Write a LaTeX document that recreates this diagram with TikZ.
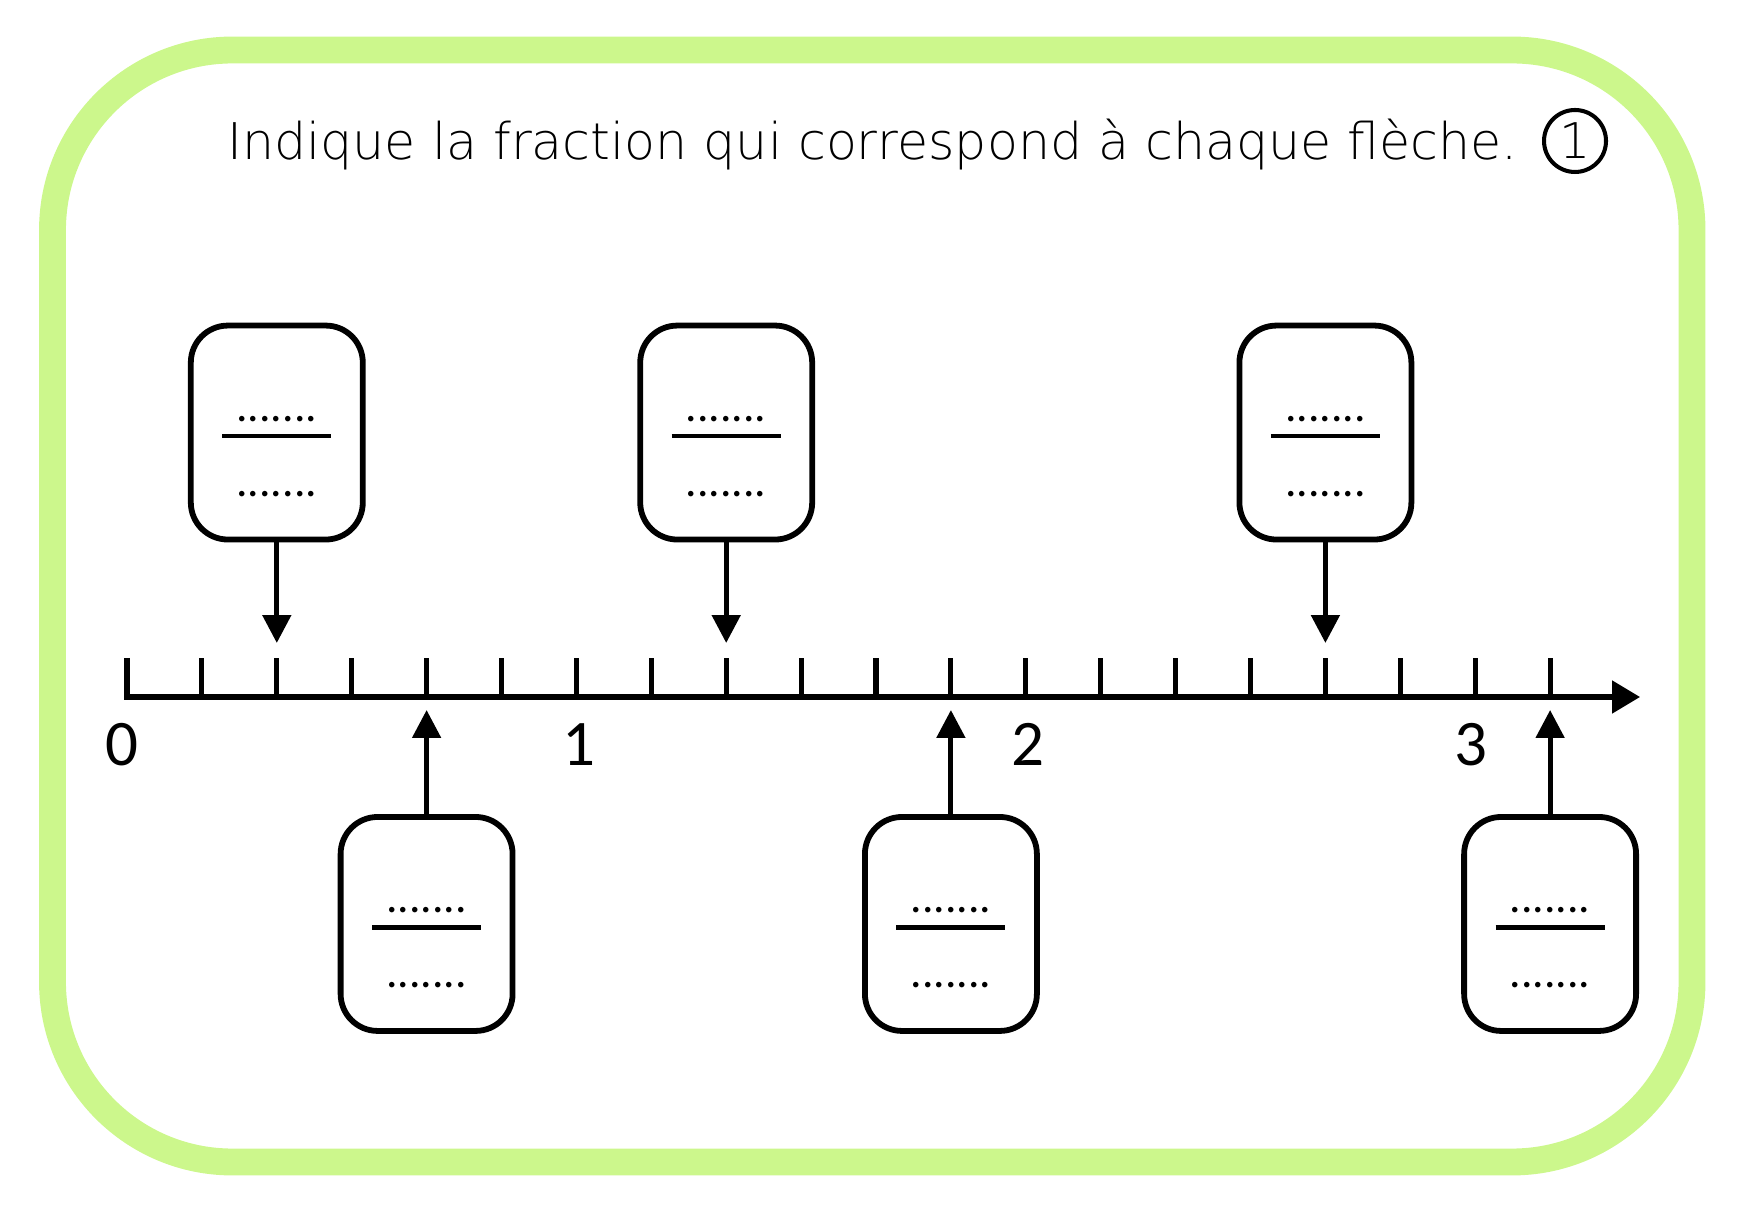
\documentclass[tikz,border=0pt]{standalone}
\usepackage{fontspec}
\usetikzlibrary{positioning, arrows.meta, calc}

\newfontfamily\numfont{Carlito}
\newfontfamily\titlefont{DejaVu Sans ExtraLight}
\definecolor{framegreen}{RGB}{204,247,140}

\begin{document}
\begin{tikzpicture}[x=0.02cm, y=0.02cm, line width=2.9pt]

	\tikzstyle{fracbox}=[draw, line width=3.3pt, rounded corners=0.74cm, minimum width=3.44cm, minimum height=4.28cm, inner sep=0pt, outer sep=0pt]
	\tikzstyle{pointer}=[-{Triangle[length=0.56cm, width=0.56cm]}]
	\tikzstyle{axisline}=[-{Triangle[length=0.56cm, width=0.64cm]}]
	\tikzstyle{numlabel}=[font=\numfont\fontsize{37}{37}\selectfont, inner sep=0pt, anchor=base]
	\tikzstyle{dots}=[font=\numfont\fontsize{26}{26}\selectfont, inner sep=0pt, anchor=base]

	\useasboundingbox (0,0) rectangle (1746,1214);

	% frame
	\draw[framegreen, line width=15.3pt, rounded corners=3.6cm] (52.5,52) rectangle (1692,1164);

	% title
	\node[anchor=base west, inner sep=0pt, font=\titlefont\fontsize{28.8}{30}\selectfont] (title) at (225,1054) {Indique la fraction qui correspond à chaque flèche.};
	\node[circle, draw, line width=2.3pt, minimum size=1.24cm, inner sep=0pt, font=\titlefont\fontsize{28}{28}\selectfont] (num) at (1575,1073) {1};

	% number line
	\foreach \i in {0,...,19}
		\coordinate (t\i) at (127+74.9*\i, 517);
	\coordinate (axisend) at (1640,517);

	\draw[axisline] ($(t0)+(0,39)$) -- (t0) -- (axisend);
	\foreach \i in {1,...,19}
		\draw (t\i) -- ++(0,39);

	\node[numlabel] (n0) at ($(t0)+(-5,-68)$) {0};
	\node[numlabel] (n1) at ($(t6)+(3,-68)$) {1};
	\node[numlabel] (n2) at ($(t12)+(2,-68)$) {2};
	\node[numlabel] (n3) at ($(t18)+(-4,-68)$) {3};

	% boxes above
	\node[fracbox, above=3.15cm of t2] (f1) {};
	\node[fracbox, above=3.15cm of t8] (f2) {};
	\node[fracbox, above=3.15cm of t16] (f3) {};

	% boxes below
	\node[fracbox, below=2.4cm of t4] (f4) {};
	\node[fracbox, below=2.4cm of t11] (f5) {};
	\node[fracbox, below=2.4cm of t19] (f6) {};

	\draw[pointer] (f1.south) -- ($(t2)+(0,54)$);
	\draw[pointer] (f2.south) -- ($(t8)+(0,54)$);
	\draw[pointer] (f3.south) -- ($(t16)+(0,54)$);

	\draw[pointer] (f4.north) -- ($(t4)+(0,-13)$);
	\draw[pointer] (f5.north) -- ($(t11)+(0,-13)$);
	\draw[pointer] (f6.north) -- ($(t19)+(0,-13)$);

	% empty fractions
	\foreach \b in {1,...,6} {
		\draw[line width=2.7pt] ($(f\b.center)+(-54.5,-3.5)$) -- ($(f\b.center)+(54.5,-3.5)$);
		\node[dots] (up\b) at ($(f\b.center)+(0,11)$) {.......};
		\node[dots] (down\b) at ($(f\b.center)+(0,-63.5)$) {.......};
	}

\end{tikzpicture}
\end{document}
